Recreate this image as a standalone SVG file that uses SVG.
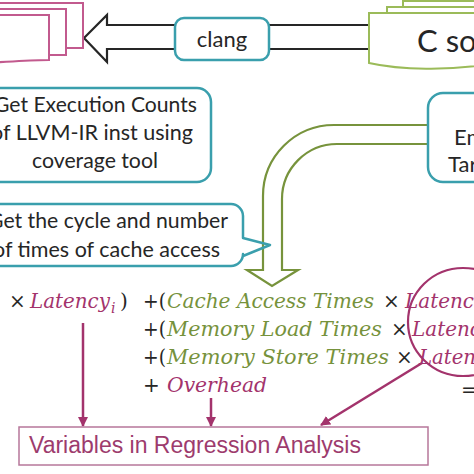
<svg xmlns="http://www.w3.org/2000/svg" width="474" height="474" viewBox="0 0 474 474">
<style>
.teal{fill:#fff;stroke:#3a9fad;stroke-width:2.5}
.pinkdoc{fill:#fff;stroke:#c25a8e;stroke-width:2}
.greendoc{fill:#fff;stroke:#9bbb59;stroke-width:2}
.cal{font-family:Lato,"Open Sans",sans-serif;fill:#262626}
.m{font-family:"DejaVu Serif","Liberation Serif",serif;font-size:20px}
.mi{font-family:"DejaVu Serif","Liberation Serif",serif;font-size:20px;font-style:italic}
.blk{fill:#262626}
.grn{fill:#76923c}
.pnk{fill:#a3336c}
.plink{stroke:#a3336c;stroke-width:2.5;fill:none}
</style>
<defs>
<marker id="ah" viewBox="0 0 10 10" refX="9" refY="5" markerWidth="4" markerHeight="4" orient="auto" markerUnits="strokeWidth">
<path d="M0,0 L10,5 L0,10 z" fill="#a3336c"/>
</marker>
</defs>

<g id="connectors">
<polygon points="84,38 107,15 107,25 372,25 372,49 107,49 107,62" fill="#fff" stroke="#262626" stroke-width="2.2" stroke-linejoin="miter"/>
<path d="M430,125 H334 A71,71 0 0 0 263,196 V270 H247 L272,286 L298,270 H282 V199 A55,55 0 0 1 337,144 H430" fill="#fff" stroke="#77933c" stroke-width="2.2"/>
<line x1="83" y1="323" x2="83" y2="426" class="plink" marker-end="url(#ah)"/>
<line x1="211" y1="398" x2="211" y2="426" class="plink" marker-end="url(#ah)"/>
<line x1="422" y1="363" x2="321" y2="425" class="plink" marker-end="url(#ah)"/>
</g>

<g id="ir-doc">
<rect x="-40" y="3" width="123" height="45" class="pinkdoc"/>
<rect x="-40" y="9" width="106" height="46" class="pinkdoc"/>
<path d="M-40,15 H49 V60 C30,60 10,62 -40,64 Z" class="pinkdoc"/>
</g>

<g id="clang">
<rect x="175" y="18" width="94" height="42" rx="9" class="teal"/>
<text x="222" y="47" class="cal" font-size="22" text-anchor="middle">clang</text>
</g>

<g id="c-source">
<rect x="403" y="1" width="90" height="40" class="greendoc"/>
<rect x="387" y="7" width="100" height="40" class="greendoc"/>
<path d="M369,13 H490 V64 C450,71 400,70 369,63 Z" class="greendoc"/>
<text x="417" y="52" class="cal" font-size="31">C so</text>
</g>

<g id="exec-counts">
<rect x="-30" y="88" width="241" height="94" rx="14" class="teal"/>
<text x="-6" y="112" class="cal" font-size="22" textLength="203" lengthAdjust="spacingAndGlyphs">Get Execution Counts</text>
<text x="-9" y="140" class="cal" font-size="22" textLength="202" lengthAdjust="spacingAndGlyphs">of LLVM-IR inst using</text>
<text x="32" y="168" class="cal" font-size="22" textLength="126" lengthAdjust="spacingAndGlyphs">coverage tool</text>
</g>

<g id="emulate">
<rect x="428" y="93" width="80" height="89" rx="15" class="teal"/>
<text x="454" y="145" class="cal" font-size="22">Em</text>
<text x="448" y="172" class="cal" font-size="22">Tar</text>
</g>

<g id="cache-bubble">
<path d="M-30,204 H231 A12,12 0 0 1 243,216 V238 L270,245 L243,256 V254 A12,12 0 0 1 231,266 H-30" fill="none" stroke="#3a9fad" stroke-width="2.5" stroke-linejoin="round"/>
<text x="-12" y="228" class="cal" font-size="22" textLength="240" lengthAdjust="spacingAndGlyphs">Get the cycle and number</text>
<text x="-7" y="257" class="cal" font-size="22" textLength="227" lengthAdjust="spacingAndGlyphs">of times of cache access</text>
</g>

<g id="formula">
<text x="9" y="308" class="m blk">×</text>
<text x="30" y="308" class="mi pnk" textLength="80" lengthAdjust="spacingAndGlyphs">Latency</text>
<text x="111" y="313" class="mi pnk" style="font-size:14px">i</text>
<text x="120" y="308" class="m blk">)</text>
<text x="143" y="308" class="m blk" textLength="23" lengthAdjust="spacingAndGlyphs">+(</text>
<text x="167" y="308" class="mi grn" textLength="207" lengthAdjust="spacingAndGlyphs">Cache Access Times</text>
<text x="383" y="308" class="m blk">×</text>
<text x="405" y="308" class="mi pnk" textLength="69" lengthAdjust="spacingAndGlyphs">Latenc</text>
<text x="143" y="336" class="m blk" textLength="23" lengthAdjust="spacingAndGlyphs">+(</text>
<text x="167" y="336" class="mi grn" textLength="215" lengthAdjust="spacingAndGlyphs">Memory Load Times</text>
<text x="391" y="336" class="m blk">×</text>
<text x="412" y="336" class="mi pnk" textLength="69" lengthAdjust="spacingAndGlyphs">Latenc</text>
<text x="143" y="364" class="m blk" textLength="23" lengthAdjust="spacingAndGlyphs">+(</text>
<text x="167" y="364" class="mi grn" textLength="222" lengthAdjust="spacingAndGlyphs">Memory Store Times</text>
<text x="396" y="364" class="m blk">×</text>
<text x="419" y="364" class="mi pnk" textLength="57" lengthAdjust="spacingAndGlyphs">Laten</text>
<text x="143" y="392" class="m blk">+</text>
<text x="167" y="392" class="mi pnk" textLength="100" lengthAdjust="spacingAndGlyphs">Overhead</text>
<text x="461" y="397" class="m blk">=</text>
</g>

<g id="highlight">
<ellipse cx="463" cy="322" rx="55" ry="54" fill="none" stroke="#a3336c" stroke-width="2.2"/>
</g>

<g id="variables">
<rect x="19" y="427" width="409" height="38" fill="#fff" stroke="#b7779a" stroke-width="1.5"/>
<text x="29" y="453" font-family="'Liberation Sans',Arial,sans-serif" font-size="23" fill="#9d3b6d">Variables in Regression Analysis</text>
</g>
</svg>
